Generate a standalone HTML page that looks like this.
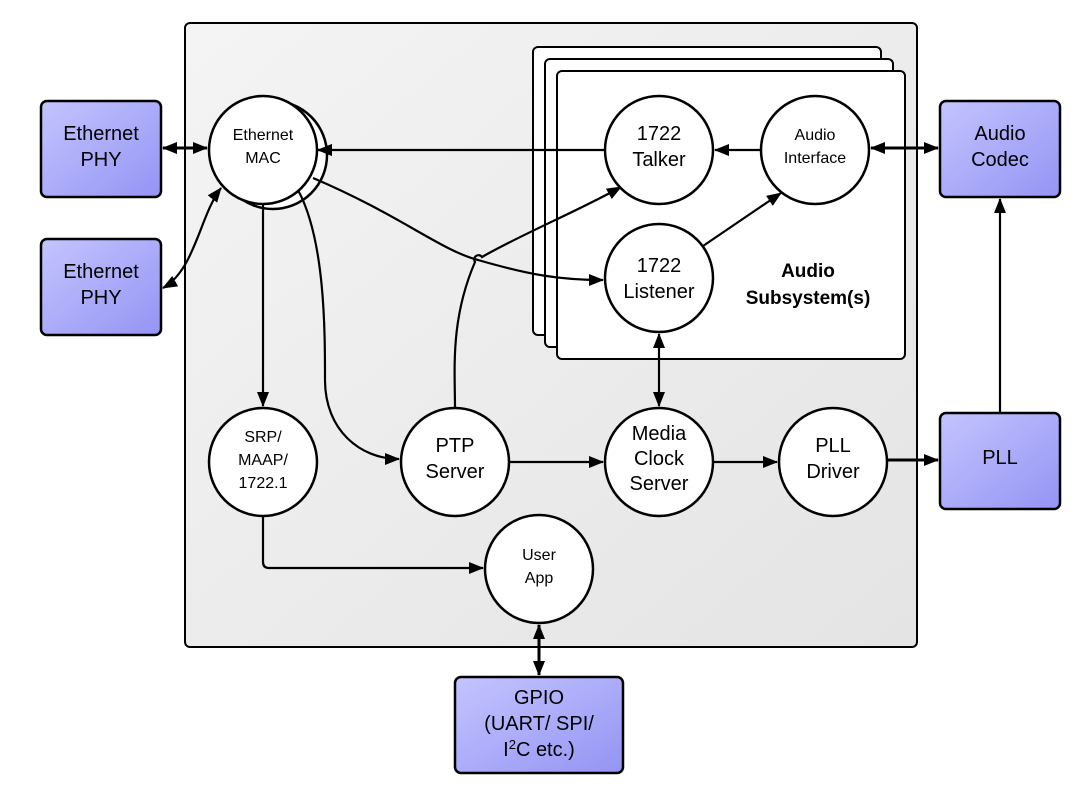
<!DOCTYPE html>
<html><head><meta charset="utf-8"><style>
html,body{margin:0;padding:0;background:#fff;}
svg{display:block;font-family:"Liberation Sans",sans-serif;}
</style></head><body>
<svg width="1092" height="786" viewBox="0 0 1092 786" xmlns="http://www.w3.org/2000/svg">
<defs>
<linearGradient id="g" x1="0" y1="0" x2="1" y2="1"><stop offset="0" stop-color="#f4f4f4"/><stop offset="1" stop-color="#e4e4e4"/></linearGradient>
<linearGradient id="b" x1="0" y1="0" x2="1" y2="1"><stop offset="0" stop-color="#c4c4ff"/><stop offset="1" stop-color="#9494f4"/></linearGradient>
<marker id="a" markerWidth="15" markerHeight="12" refX="14" refY="6" orient="auto" markerUnits="userSpaceOnUse"><path d="M0,0 L15,6 L0,12 z" fill="#000"/></marker>
<marker id="s" markerWidth="15" markerHeight="12" refX="1" refY="6" orient="auto" markerUnits="userSpaceOnUse"><path d="M15,0 L0,6 L15,12 z" fill="#000"/></marker>
</defs>
<rect x="185" y="23" width="732" height="624" rx="5" fill="url(#g)" stroke="#000" stroke-width="2"/>
<g fill="url(#b)" stroke="#000" stroke-width="2.5">
<rect x="41" y="101" width="120" height="96" rx="6"/>
<rect x="41" y="239" width="120" height="96" rx="6"/>
<rect x="940" y="101" width="120" height="96" rx="6"/>
<rect x="940" y="413" width="120" height="96" rx="6"/>
<rect x="455" y="677" width="168" height="96" rx="6"/>
</g>
<g fill="#fff" stroke="#000" stroke-width="2">
<rect x="533" y="47" width="348" height="288" rx="5"/>
<rect x="545" y="59" width="348" height="288" rx="5"/>
<rect x="557" y="71" width="348" height="288" rx="5"/>
</g>
<circle cx="273" cy="155" r="54" fill="#fff" stroke="#000" stroke-width="2.5"/>
<g fill="none" stroke="#000" stroke-width="2.2">
<line x1="163" y1="148" x2="207" y2="148" stroke-width="3" marker-start="url(#s)" marker-end="url(#a)"/>
<path d="M163,288 C195,270 200,215 221,188" marker-start="url(#s)" marker-end="url(#a)"/>
<line x1="605" y1="150" x2="318" y2="150" marker-end="url(#a)"/>
<line x1="761" y1="150" x2="715" y2="150" marker-end="url(#a)"/>
<line x1="871" y1="148" x2="938" y2="148" stroke-width="3" marker-start="url(#s)" marker-end="url(#a)"/>
<line x1="703" y1="246" x2="781" y2="193" marker-end="url(#a)"/>
<path d="M313,178 C400,215 440,250 478,260 C530,275 560,280 603,280" marker-end="url(#a)"/>
<path d="M455,408 C455,370 450,320 475,262 a4,4 0 0 1 7,-5 C520,235 580,210 621,187" marker-end="url(#a)"/>
<line x1="263" y1="204" x2="263" y2="406" marker-end="url(#a)"/>
<path d="M298,190 C325,240 325,330 325,380 C325,430 360,459 399,459" marker-end="url(#a)"/>
<line x1="509" y1="462" x2="603" y2="462" marker-end="url(#a)"/>
<line x1="713" y1="462" x2="777" y2="462" marker-end="url(#a)"/>
<line x1="887" y1="460" x2="938" y2="460" stroke-width="3" marker-end="url(#a)"/>
<line x1="1000" y1="413" x2="1000" y2="199" marker-end="url(#a)"/>
<line x1="659" y1="334" x2="659" y2="406" marker-start="url(#s)" marker-end="url(#a)"/>
<path d="M263,516 L263,562 Q263,568 269,568 L483,568" marker-end="url(#a)"/>
<line x1="539" y1="625" x2="539" y2="675" stroke-width="3" marker-start="url(#s)" marker-end="url(#a)"/>
</g>
<circle cx="263" cy="150" r="54" fill="#fff" stroke="#000" stroke-width="2.5"/>
<line x1="330" y1="150" x2="318" y2="150" stroke="#000" stroke-width="2.2" marker-end="url(#a)"/>
<g fill="#fff" stroke="#000" stroke-width="2.5">
<circle cx="659" cy="150" r="54"/>
<circle cx="815" cy="150" r="54"/>
<circle cx="659" cy="278" r="54"/>
<circle cx="263" cy="462" r="54"/>
<circle cx="455" cy="462" r="54"/>
<circle cx="659" cy="462" r="54"/>
<circle cx="833" cy="462" r="54"/>
<circle cx="539" cy="569" r="54"/>
</g>
<g font-size="20" text-anchor="middle" fill="#000">
<text x="101" y="140">Ethernet</text><text x="101" y="166">PHY</text>
<text x="101" y="278">Ethernet</text><text x="101" y="304">PHY</text>
<text x="1000" y="140">Audio</text><text x="1000" y="166">Codec</text>
<text x="1000" y="464">PLL</text>
<text x="539" y="704">GPIO</text><text x="539" y="730">(UART/ SPI/</text><text x="539" y="756">I<tspan font-size="13" dy="-7">2</tspan><tspan dy="7">C etc.)</tspan></text>
<text x="659" y="140">1722</text><text x="659" y="166">Talker</text>
<text x="659" y="272">1722</text><text x="659" y="298">Listener</text>
<text x="455" y="452">PTP</text><text x="455" y="478">Server</text>
<text x="659" y="440">Media</text><text x="659" y="465">Clock</text><text x="659" y="490">Server</text>
<text x="833" y="452">PLL</text><text x="833" y="478">Driver</text>
</g>
<g font-size="16" text-anchor="middle" fill="#000">
<text x="263" y="140">Ethernet</text><text x="263" y="163">MAC</text>
<text x="815" y="140">Audio</text><text x="815" y="163">Interface</text>
<text x="263" y="442">SRP/</text><text x="263" y="465">MAAP/</text><text x="263" y="488">1722.1</text>
<text x="539" y="560">User</text><text x="539" y="583">App</text>
</g>
<g font-size="19" font-weight="bold" text-anchor="middle"><text x="808" y="277">Audio</text><text x="808" y="304">Subsystem(s)</text></g>
</svg>
</body></html>
